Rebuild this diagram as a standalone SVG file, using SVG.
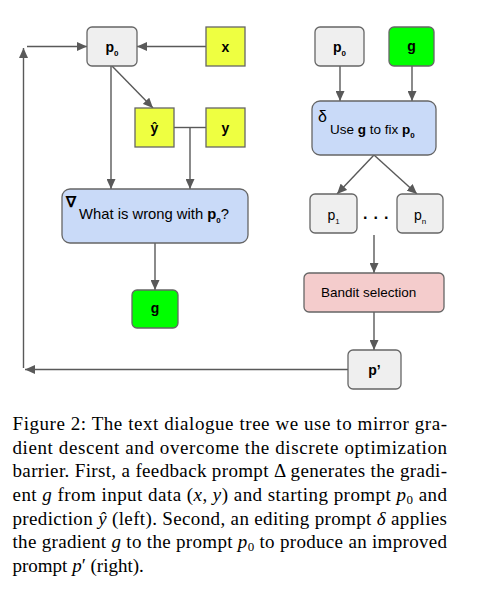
<svg xmlns="http://www.w3.org/2000/svg" width="480" height="592" viewBox="0 0 480 592">
<style>
.box{stroke:#666666;stroke-width:1.3}
.grey{fill:#efefef}
.yel{fill:#eeff41}
.grn{fill:#00ff00}
.blu{fill:#c9daf8}
.pnk{fill:#f4cccc}
.lbl{font-family:"Liberation Sans",Arial,sans-serif;font-size:14px;font-weight:bold;fill:#000;text-anchor:middle}
.txt{font-family:"Liberation Sans",Arial,sans-serif;font-size:13.5px;fill:#000}
.sub{font-size:8px}
.con{stroke:#595959;stroke-width:1.4;fill:none}
.cap{font-family:"Liberation Serif","Times New Roman",serif;font-size:19px;fill:#000}
.it{font-style:italic}
</style>
<defs>
<marker id="ah" viewBox="0 0 10 9" refX="10" refY="4.5" markerWidth="10" markerHeight="9" markerUnits="userSpaceOnUse" orient="auto">
<path d="M0,0 L10,4.5 L0,9 z" fill="#595959"/>
</marker>
</defs>
<g id="connectors">
<line class="con" x1="206" y1="46.5" x2="137" y2="46.5" marker-end="url(#ah)"/>
<line class="con" x1="27" y1="46.5" x2="87" y2="46.5" marker-end="url(#ah)"/>
<line class="con" x1="23.5" y1="368" x2="23.5" y2="48" marker-end="url(#ah)"/>
<line class="con" x1="348" y1="369.5" x2="25" y2="369.5" marker-end="url(#ah)"/>
<line class="con" x1="111" y1="66" x2="111" y2="189" marker-end="url(#ah)"/>
<line class="con" x1="112" y1="66" x2="153" y2="108" marker-end="url(#ah)"/>
<line class="con" x1="174" y1="127.5" x2="206" y2="127.5"/>
<line class="con" x1="190" y1="127.5" x2="190" y2="189" marker-end="url(#ah)"/>
<line class="con" x1="155" y1="243" x2="155" y2="290" marker-end="url(#ah)"/>
<line class="con" x1="340" y1="66" x2="340" y2="101" marker-end="url(#ah)"/>
<line class="con" x1="412" y1="66" x2="412" y2="101" marker-end="url(#ah)"/>
<line class="con" x1="374" y1="155" x2="337" y2="194" marker-end="url(#ah)"/>
<line class="con" x1="374" y1="155" x2="417" y2="194" marker-end="url(#ah)"/>
<line class="con" x1="374" y1="235" x2="374" y2="273" marker-end="url(#ah)"/>
<line class="con" x1="374" y1="312" x2="374" y2="350" marker-end="url(#ah)"/>
</g>
<g id="p0-left">
<rect class="box grey" x="87" y="27" width="50" height="39" rx="5"/>
<text class="lbl" x="112" y="52">p<tspan class="sub" dy="4">0</tspan></text>
</g>
<g id="x">
<rect class="box yel" x="206" y="27" width="39" height="39"/>
<text class="lbl" x="225.5" y="51.5">x</text>
</g>
<g id="yhat">
<rect class="box yel" x="135" y="108" width="39" height="39"/>
<text class="lbl" x="154.5" y="132.5">ŷ</text>
</g>
<g id="y">
<rect class="box yel" x="206" y="108" width="39" height="39"/>
<text class="lbl" x="225.5" y="132.5">y</text>
</g>
<g id="nabla">
<rect class="box blu" x="62" y="189" width="186" height="54" rx="8"/>
<text class="txt" x="66" y="207" style="font-size:15px;font-weight:bold">∇</text>
<text class="txt" x="79" y="219" style="font-size:14.8px">What is wrong with <tspan font-weight="bold">p</tspan><tspan class="sub" font-weight="bold" dy="4">0</tspan><tspan dy="-4">?</tspan></text>
</g>
<g id="g-left">
<rect class="box grn" x="132" y="290" width="46" height="38" rx="5"/>
<text class="lbl" x="155" y="313">g</text>
</g>
<g id="p0-right">
<rect class="box grey" x="315" y="27" width="49" height="39" rx="5"/>
<text class="lbl" x="339.5" y="52">p<tspan class="sub" dy="4">0</tspan></text>
</g>
<g id="g-right">
<rect class="box grn" x="389" y="27" width="45" height="39" rx="5"/>
<text class="lbl" x="411.5" y="51">g</text>
</g>
<g id="delta">
<rect class="box blu" x="312" y="101" width="124" height="54" rx="8"/>
<text class="txt" x="318" y="122" style="font-size:16px">δ</text>
<text class="txt" x="330" y="133.5">Use <tspan font-weight="bold">g</tspan> to fix <tspan font-weight="bold">p</tspan><tspan class="sub" font-weight="bold" dy="4">0</tspan></text>
</g>
<g id="p1">
<rect class="box grey" x="310" y="194" width="47" height="39" rx="5"/>
<text class="lbl" x="333.5" y="220" style="font-weight:normal">p<tspan class="sub" dy="3.5">1</tspan></text>
</g>
<g id="dots">
<text class="lbl" x="363" y="218.5" style="text-anchor:start;font-size:16px;letter-spacing:6px">...</text>
</g>
<g id="pn">
<rect class="box grey" x="397" y="194" width="46" height="39" rx="5"/>
<text class="lbl" x="420" y="220" style="font-weight:normal">p<tspan class="sub" dy="3.5">n</tspan></text>
</g>
<g id="bandit">
<rect class="box pnk" x="304" y="273" width="140" height="39" rx="5"/>
<text class="txt" x="321" y="297">Bandit selection</text>
</g>
<g id="pprime">
<rect class="box grey" x="348" y="350" width="53" height="39" rx="5"/>
<text class="lbl" x="374.5" y="374.5">p’</text>
</g>
<g id="caption">
<text class="cap" x="12.5" y="430" textLength="434.5" lengthAdjust="spacing">Figure 2: The text dialogue tree we use to mirror gra-</text>
<text class="cap" x="12.5" y="453.7" textLength="434.5" lengthAdjust="spacing">dient descent and overcome the discrete optimization</text>
<text class="cap" x="12.5" y="477.3" textLength="434.5" lengthAdjust="spacing">barrier. First, a feedback prompt Δ generates the gradi-</text>
<text class="cap" x="12.5" y="501" textLength="434.5" lengthAdjust="spacing">ent <tspan class="it">g</tspan> from input data (<tspan class="it">x</tspan>, <tspan class="it">y</tspan>) and starting prompt <tspan class="it">p</tspan><tspan font-size="13" dy="3">0</tspan><tspan dy="-3"> and</tspan></text>
<text class="cap" x="12.5" y="524.7" textLength="434.5" lengthAdjust="spacing">prediction <tspan class="it">ŷ</tspan> (left). Second, an editing prompt <tspan class="it">δ</tspan> applies</text>
<text class="cap" x="12.5" y="548.3" textLength="434.5" lengthAdjust="spacing">the gradient <tspan class="it">g</tspan> to the prompt <tspan class="it">p</tspan><tspan font-size="13" dy="3">0</tspan><tspan dy="-3"> to produce an improved</tspan></text>
<text class="cap" x="12.5" y="572">prompt <tspan class="it">p</tspan>′ (right).</text>
</g>
</svg>
